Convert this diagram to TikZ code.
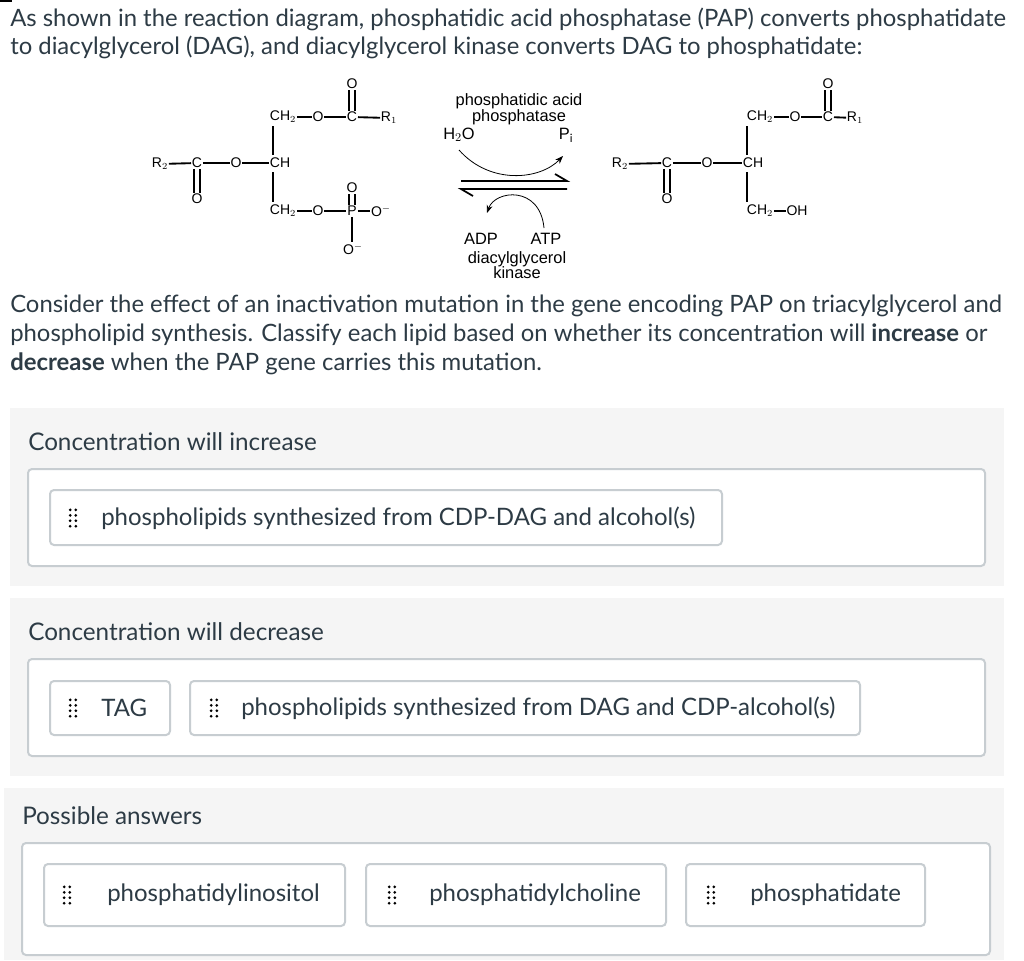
\documentclass[tikz,border=0pt]{standalone}
\usepackage{fontspec}
\setmainfont{Lato}
\newfontfamily\chem{Liberation Sans}
\usetikzlibrary{arrows.meta}
\definecolor{txt}{HTML}{2D3B45}
\definecolor{panel}{HTML}{F5F5F5}
\definecolor{bord}{HTML}{C7CDD1}
\tikzset{
  ch/.style={font=\chem\fontsize{10.5}{11}\selectfont, inner sep=0.5pt},
  chl/.style={font=\chem\fontsize{12.3}{12}\selectfont, inner sep=0.5pt},
  bond/.style={line width=1.4pt, black},
  para/.style={anchor=west, font=\fontsize{17.9}{18}\selectfont, text=txt, inner sep=0},
  lab/.style={anchor=west, font=\fontsize{18.2}{18}\selectfont, text=txt, inner sep=0},
  itm/.style={anchor=west, font=\fontsize{18}{18}\selectfont, text=txt, inner sep=0},
  ibox/.style={draw=bord, line width=1.5pt, fill=white, rounded corners=3pt}
}
\newcommand{\grip}[2]{\foreach \dy in {-8.2,-2.7,2.7,8.2}{\fill (#1-2.8,#2+\dy) circle (1.5); \fill (#1+2.8,#2+\dy) circle (1.5);}}
\begin{document}
\begin{tikzpicture}[x=0.75pt,y=-0.75pt]
\useasboundingbox (0,0) rectangle (1024,960);
\fill[white] (0,0) rectangle (1024,960);
\draw[line width=1.5pt] (0,1) -- (12,1);
% header text
\node[para] (t1) at (10,19) {As shown in the reaction diagram, phosphatidic acid phosphatase (PAP) converts phosphatidate};
\node[para] (t2) at (10,47) {to diacylglycerol (DAG), and diacylglycerol kinase converts DAG to phosphatidate:};
% left molecule
\node[ch] (lch2) at (283,117) {CH$_2$};
\node[ch] (lo1) at (318,117) {O};
\node[ch] (lc1) at (352,117) {C};
\node[ch] (lr1) at (389,118) {R$_1$};
\node[ch] (lo1t) at (352,84) {O};
\node[ch] (lr2) at (160,164) {R$_2$};
\node[ch] (lc2) at (197,163) {C};
\node[ch] (lo2) at (236,163) {O};
\node[ch] (lch) at (280,163) {CH};
\node[ch] (lo2b) at (197,199) {O};
\node[ch] (lch2b) at (283,211) {CH$_2$};
\node[ch] (lo3) at (318,211) {O};
\node[ch] (lp) at (352,211) {P};
\node[ch] (lo4) at (381,211) {O$^{-}$};
\node[ch] (lo5) at (352,188) {O};
\node[ch] (lo6) at (353,249) {O$^{-}$};
\draw[bond] (lch2) -- (lo1); \draw[bond] (lo1) -- (lc1); \draw[bond] (lc1) -- (lr1);
\draw[bond] ([xshift=-2pt]lc1.north) -- ([xshift=-2pt]lo1t.south);
\draw[bond] ([xshift=2pt]lc1.north) -- ([xshift=2pt]lo1t.south);
\draw[bond] (lr2) -- (lc2); \draw[bond] (lc2) -- (lo2); \draw[bond] (lo2) -- (lch);
\draw[bond] ([xshift=-2pt]lc2.south) -- ([xshift=-2pt]lo2b.north);
\draw[bond] ([xshift=2pt]lc2.south) -- ([xshift=2pt]lo2b.north);
\draw[bond] (lch2b) -- (lo3); \draw[bond] (lo3) -- (lp); \draw[bond] (lp) -- (lo4.west);
\draw[bond] ([xshift=-2pt]lp.north) -- ([xshift=-2pt]lo5.south);
\draw[bond] ([xshift=2pt]lp.north) -- ([xshift=2pt]lo5.south);
\draw[bond] (lp.south) -- (lo6.north -| lp);
\draw[bond] (273,126) -- (273,155);
\draw[bond] (273,172) -- (273,202);
% right molecule
\node[ch] (rch2) at (760,117) {CH$_2$};
\node[ch] (ro1) at (795,117) {O};
\node[ch] (rc1) at (828,117) {C};
\node[ch] (rr1) at (855,118) {R$_1$};
\node[ch] (ro1t) at (828,84) {O};
\node[ch] (rr2) at (620,164) {R$_2$};
\node[ch] (rc2) at (667,163) {C};
\node[ch] (ro2) at (707,163) {O};
\node[ch] (rch) at (753,163) {CH};
\node[ch] (ro2b) at (667,199) {O};
\node[ch] (rch2b) at (760,211) {CH$_2$};
\node[ch] (roh) at (797,211) {OH};
\draw[bond] (rch2) -- (ro1); \draw[bond] (ro1) -- (rc1); \draw[bond] (rc1) -- (rr1);
\draw[bond] ([xshift=-2pt]rc1.north) -- ([xshift=-2pt]ro1t.south);
\draw[bond] ([xshift=2pt]rc1.north) -- ([xshift=2pt]ro1t.south);
\draw[bond] (rr2) -- (rc2); \draw[bond] (rc2) -- (ro2); \draw[bond] (ro2) -- (rch);
\draw[bond] ([xshift=-2pt]rc2.south) -- ([xshift=-2pt]ro2b.north);
\draw[bond] ([xshift=2pt]rc2.south) -- ([xshift=2pt]ro2b.north);
\draw[bond] (rch2b) -- (roh);
\draw[bond] (747,126) -- (747,155);
\draw[bond] (747,172) -- (747,202);
% middle arrows
\node[chl] (pap1) at (519,101) {phosphatidic acid};
\node[chl] (pap2) at (519,117) {phosphatase};
\node[chl] (h2o) at (459,135) {H$_2$O};
\node[chl] (pi) at (566,135) {P$_\mathrm{i}$};
\node[chl] (adp) at (481,239) {ADP};
\node[chl] (atp) at (546,239) {ATP};
\node[chl] (dgk1) at (517,259) {diacylglycerol};
\node[chl] (dgk2) at (517,273) {kinase};
\coordinate (eqL) at (461,181); \coordinate (eqR) at (567,181);
\coordinate (eqL2) at (461,189); \coordinate (eqR2) at (567,189);
\draw[line width=1.3pt] (eqL) -- (eqR) -- ++(-12,-7);
\draw[line width=1.3pt] (eqR2) -- (eqL2) -- ++(12,7);
\draw[-{Stealth[length=6pt]}, line width=0.6pt] (459,150) .. controls (490,185) and (540,180) .. (563,156);
\draw[-{Stealth[length=6pt]}, line width=0.6pt] (544,228) .. controls (540,185) and (495,190) .. (487,213);
% question text
\node[para] (q1) at (10,306) {Consider the effect of an inactivation mutation in the gene encoding PAP on triacylglycerol and};
\node[para] (q2) at (10,335) {phospholipid synthesis. Classify each lipid based on whether its concentration will \textbf{increase} or};
\node[para] (q3) at (10,364) {\textbf{decrease} when the PAP gene carries this mutation.};
% panel 1
\fill[panel] (10,408) rectangle (1004,586);
\node[lab] (l1) at (28,442) {Concentration will increase};
\draw[ibox] (28,469) rectangle (985,566);
\draw[ibox] (50,490) rectangle (722,545);
\grip{73}{518}
\node[itm] (a1) at (101,518) {phospholipids synthesized from CDP-DAG and alcohol(s)};
% panel 2
\fill[panel] (10,598) rectangle (1004,776);
\node[lab] (l2) at (28,632) {Concentration will decrease};
\draw[ibox] (28,659) rectangle (985,756);
\draw[ibox] (50,681) rectangle (170,735);
\grip{73}{708}
\node[itm] (a2) at (101,708) {TAG};
\draw[ibox] (190,681) rectangle (860,735);
\grip{214}{708}
\node[itm] (a3) at (241,708) {phospholipids synthesized from DAG and CDP-alcohol(s)};
% panel 3
\fill[panel] (4,788) rectangle (1004,960);
\node[lab] (l3) at (22,816) {Possible answers};
\draw[ibox] (22,843) rectangle (990,955);
\draw[ibox] (44,864) rectangle (345,926);
\grip{67}{895}
\node[itm] (a4) at (107,895) {phosphatidylinositol};
\draw[ibox] (366,864) rectangle (666,926);
\grip{392}{895}
\node[itm] (a5) at (429,895) {phosphatidylcholine};
\draw[ibox] (686,864) rectangle (925,926);
\grip{711}{895}
\node[itm] (a6) at (750,895) {phosphatidate};
\end{tikzpicture}
\end{document}
